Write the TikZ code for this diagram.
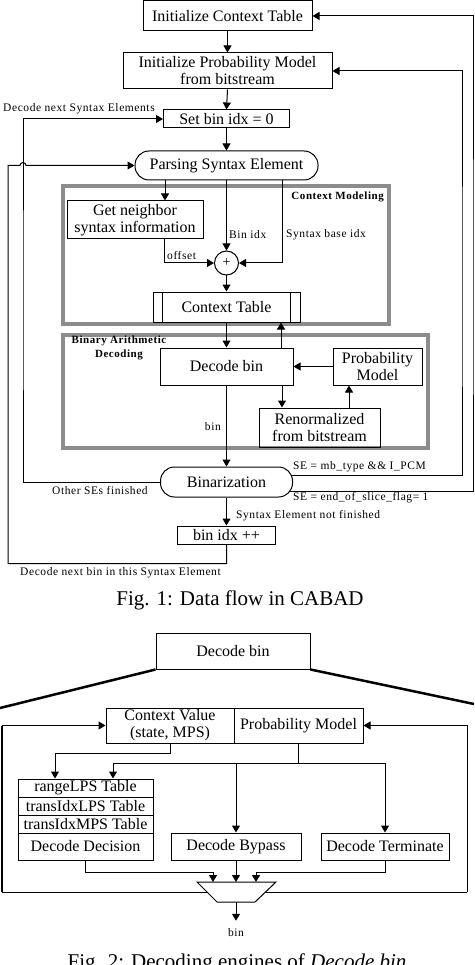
\documentclass[tikz,border=0pt]{standalone}
\usepackage{fontspec}
\setmainfont{Liberation Serif}
\newfontfamily\lblfont[LetterSpace=5]{Liberation Serif}
\usetikzlibrary{arrows.meta}

\begin{document}
\begin{tikzpicture}[x=1pt, y=-1pt,
    procbox/.style={draw, line width=1pt, inner sep=0pt, align=center,
      font=\fontsize{16}{17}\selectfont},
    termbox/.style={procbox, rounded corners=14pt},
    lbl/.style={inner sep=0pt, font=\lblfont\fontsize{11.5}{12}\selectfont},
    grouplbl/.style={inner sep=0pt, align=center,
      font=\lblfont\bfseries\fontsize{11}{14}\selectfont},
    grp/.style={draw=black!45, line width=3.5pt},
    wire/.style={line width=1pt},
    arr/.style={-{Triangle[length=7pt,width=8pt]}, line width=1pt}]
    \useasboundingbox (0,0) rectangle (474,965);

    % Fig. 1
    \draw[grp] (63,186) rectangle (389,324);
    \draw[grp] (63,335) rectangle (428,448);

    \node[procbox, minimum width=169pt, minimum height=30pt] (initctx) at (227.5,16) {Initialize Context Table};
    \node[procbox, minimum width=209pt, minimum height=36pt] (initprob) at (227.5,71) {Initialize Probability Model\\from bitstream};
    \node[procbox, minimum width=126pt, minimum height=18pt] (setbin) at (226.5,119) {Set bin idx = 0};
    \node[termbox, minimum width=183pt, minimum height=29pt] (parse) at (226.5,165.5) {Parsing Syntax Element};
    \node[procbox, minimum width=136pt, minimum height=38pt] (neigh) at (135,220) {Get neighbor\\syntax information};
    \node[draw, circle, line width=1pt, minimum size=24pt, inner sep=0pt,
      font=\fontsize{14}{14}\selectfont] (sum) at (226.5,263) {+};
    \node[procbox, minimum width=147pt, minimum height=30pt] (ctxtab) at (226.5,307) {Context Table};
    \node[procbox, minimum width=133pt, minimum height=37pt] (dbin) at (226.5,366.5) {Decode bin};
    \node[procbox, minimum width=89pt, minimum height=37pt] (probm) at (377.5,366.5) {Probability\\Model};
    \node[procbox, minimum width=121pt, minimum height=39pt] (renorm) at (319.5,427.5) {Renormalized\\from bitstream};
    \node[termbox, minimum width=132pt, minimum height=30pt] (binar) at (226.5,482) {Binarization};
    \node[procbox, minimum width=98pt, minimum height=18pt] (binpp) at (226.5,535) {bin idx ++};

    \draw[wire] ([xshift=10pt]ctxtab.north west) -- ([xshift=10pt]ctxtab.south west);
    \draw[wire] ([xshift=-10pt]ctxtab.north east) -- ([xshift=-10pt]ctxtab.south east);

    \node[grouplbl, anchor=east] (cmlbl) at (384,197) {Context Modeling};
    \node[grouplbl] (badlbl) at (119,347.5) {Binary Arithmetic\\Decoding};

    \coordinate (rinner) at (462,300);
    \coordinate (router) at (473,300);
    \coordinate (linner) at (23,300);
    \coordinate (louter) at (8,300);
    \coordinate (hop) at (20,165.5);

    \draw[arr] (initctx.south) -- (initprob.north);
    \draw[arr] (initprob.south) -- (setbin.north);
    \draw[arr] (setbin.south) -- (parse.north);
    \draw[arr] ([xshift=30pt]neigh.north |- parse.south) -- ([xshift=30pt]neigh.north);
    \draw[arr] (parse.south) -- (sum.north);
    \draw[arr] ([xshift=55.5pt]parse.south) |- (sum.east);
    \draw[arr] ([xshift=29pt]neigh.south) |- (sum.west);
    \draw[arr] (sum.south) -- (ctxtab.north);
    \draw[arr] (ctxtab.south) -- (dbin.north);
    \draw[arr] ([xshift=54.5pt]dbin.north) -- ([xshift=54.5pt]dbin.north |- ctxtab.south);
    \draw[arr] (probm.west) -- (dbin.east);
    \draw[arr] ([xshift=55.5pt]dbin.south) -- ([xshift=55.5pt]dbin.south |- renorm.north);
    \draw[arr] ([xshift=29.5pt]renorm.north) -- ([xshift=29.5pt]renorm.north |- probm.south);
    \draw[arr] (dbin.south) -- (binar.north);
    \draw[arr] ([shift={(-2pt,7pt)}]binar.east) -| (rinner) |- (initprob.east);
    \draw[arr] ([shift={(-3pt,-9pt)}]binar.east) -| (router) |- (initctx.east);
    \draw[arr] (binar.west) -| (linner) |- (setbin.west);
    \draw[arr] (binar.south) -- (binpp.north);
    \draw[arr] (binpp.south) -- ++(0,19) -| (louter) |- (hop)
      arc[start angle=180, end angle=0, radius=3pt] -- (parse.west);

    \node[lbl, anchor=west] (lnextse) at (3,109) {Decode next Syntax Elements};
    \node[lbl, anchor=west] (lbinidx) at (229,235) {Bin idx};
    \node[lbl, anchor=west] (lbase) at (286,235) {Syntax base idx};
    \node[lbl, anchor=west] (loffset) at (167,256) {offset};
    \node[lbl, anchor=east] (lbin) at (221,427) {bin};
    \node[lbl, anchor=west] (lpcm) at (293,467) {SE = mb\_type \&\& I\_PCM};
    \node[lbl, anchor=west] (leos) at (293,498) {SE = end\_of\_slice\_flag= 1};
    \node[lbl, anchor=west] (lother) at (52,491) {Other SEs finished};
    \node[lbl, anchor=west] (lnotfin) at (236,516) {Syntax Element not finished};
    \node[lbl, anchor=west] (lnextbin) at (20,573) {Decode next bin in this Syntax Element};
    \node[anchor=base, font=\fontsize{21}{24}\selectfont] (cap1) at (240,605) {Fig. 1: Data flow in CABAD};

    % Fig. 2
    \node[procbox, minimum width=154pt, minimum height=36pt] (dbin2) at (233,651) {Decode bin};
    \coordinate (fanl) at (0,708);
    \coordinate (fanr) at (474,704);
    \draw[line width=2.5pt] (dbin2.south west) -- (fanl);
    \draw[line width=2.5pt] (dbin2.south east) -- (fanr);

    \node[procbox, minimum width=128pt, minimum height=35pt] (ctxval) at (170,725.5) {Context Value\\(state, MPS)};
    \node[procbox, minimum width=129pt, minimum height=35pt] (probm2) at (298.5,725.5) {Probability Model};
    \node[procbox, minimum width=135pt, minimum height=18pt] (rlps) at (85.5,788) {rangeLPS Table};
    \node[procbox, minimum width=135pt, minimum height=18pt] (tlps) at (85.5,806) {transIdxLPS Table};
    \node[procbox, minimum width=135pt, minimum height=18pt] (tmps) at (85.5,824) {transIdxMPS Table};
    \node[procbox, minimum width=135pt, minimum height=27pt] (ddec) at (85.5,846.5) {Decode Decision};
    \node[procbox, minimum width=130pt, minimum height=27pt] (bypass) at (236,846.5) {Decode Bypass};
    \node[procbox, minimum width=128pt, minimum height=27pt] (dterm) at (385,846.5) {Decode Terminate};

    \coordinate (fbl) at (2,892);
    \coordinate (fbr) at (467,892);
    \draw[arr] (fbr) -- (fbl) |- (ctxval.west);
    \draw[line width=2pt] (fbl) -- (fbl |- ctxval.west);
    \draw[arr] (fbr) |- (probm2.east);

    \coordinate (muxtop) at (236,882);
    \coordinate (muxbot) at (236,902);
    \filldraw[wire, fill=white] (197,882) -- (276,882) -- (255,902) -- (217,902) -- cycle;

    \draw[arr] (ctxval.south) -- ++(0,10) -| ([xshift=-30.5pt]rlps.north);
    \draw[wire] (probm2.south) -- ++(0,20) coordinate (pbus);
    \draw[arr] (pbus) -| ([xshift=27.5pt]rlps.north);
    \draw[arr] (pbus) -| (bypass.north);
    \draw[arr] (pbus) -| (dterm.north);
    \draw[arr] (ddec.south) -- ++(0,12) -| ([xshift=-23pt]muxtop);
    \draw[arr] (bypass.south) -- (muxtop);
    \draw[arr] (dterm.south) -- ++(0,12) -| ([xshift=20pt]muxtop);

    \node[lbl] (binout) at (236,933) {bin};
    \draw[arr, shorten >=8pt] (muxbot) -- (binout.north);
    \node[anchor=base, font=\fontsize{21}{24}\selectfont] (cap2) at (237,968) {Fig. 2: Decoding engines of \textit{Decode bin}};

  \end{tikzpicture}
\end{document}
